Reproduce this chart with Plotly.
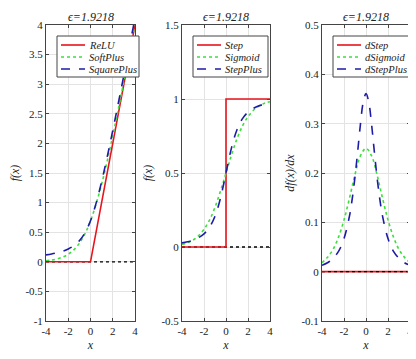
import plotly.graph_objects as go

# ---------------- data ----------------
x_grid = [-4, -3.5, -3, -2.5, -2, -1.5, -1, -0.5, 0, 0.5, 1, 1.5, 2, 2.5, 3, 3.5, 4]

relu_x = [-4, 0, 4]
relu_y = [0, 0, 4]
softplus_y = [0.018, 0.030, 0.049, 0.079, 0.127, 0.201, 0.313, 0.474, 0.693,
              0.974, 1.313, 1.701, 2.127, 2.579, 3.049, 3.530, 4.018]
squareplus_y = [0.117, 0.132, 0.152, 0.179, 0.217, 0.271, 0.355, 0.487, 0.693,
                0.987, 1.355, 1.771, 2.217, 2.679, 3.152, 3.632, 4.117]

step_x = [-4, 0, 0, 4]
step_y = [0, 0, 1, 1]
sigmoid_y = [0.018, 0.029, 0.047, 0.076, 0.119, 0.182, 0.269, 0.378, 0.500,
             0.622, 0.731, 0.818, 0.881, 0.924, 0.953, 0.971, 0.982]
stepplus_y = [0.028, 0.035, 0.046, 0.063, 0.089, 0.133, 0.208, 0.330, 0.500,
              0.670, 0.792, 0.867, 0.911, 0.937, 0.954, 0.965, 0.972]

dstep_x = [-4, 4]
dstep_y = [0, 0]
dsigmoid_y = [0.018, 0.029, 0.045, 0.070, 0.105, 0.149, 0.197, 0.235, 0.250,
              0.235, 0.197, 0.149, 0.105, 0.070, 0.045, 0.029, 0.018]
dstepplus_x = [-4, -3.5, -3, -2.5, -2, -1.5, -1.25, -1, -0.75, -0.5, -0.25, 0,
               0.25, 0.5, 0.75, 1, 1.25, 1.5, 2, 2.5, 3, 3.5, 4]
dstepplus_y = [0.013, 0.018, 0.027, 0.041, 0.067, 0.113, 0.148, 0.192, 0.245, 0.300, 0.344, 0.361,
               0.344, 0.300, 0.245, 0.192, 0.148, 0.113, 0.067, 0.041, 0.027, 0.018, 0.013]

title_text = "ϵ=1.9218"
x_ticks = [-4, -2, 0, 2, 4]
x_ticktext = ["-4", "-2", "0", "2", "4"]
y1_ticks = [-1, -0.5, 0, 0.5, 1, 1.5, 2, 2.5, 3, 3.5, 4]
y1_ticktext = ["-1", "-0.5", "0", "0.5", "1", "1.5", "2", "2.5", "3", "3.5", "4"]
y2_ticks = [-0.5, 0, 0.5, 1, 1.5]
y2_ticktext = ["-0.5", "0", "0.5", "1", "1.5"]
y3_ticks = [-0.1, 0, 0.1, 0.2, 0.3, 0.4, 0.5]
y3_ticktext = ["-0.1", "0", "0.1", "0.2", "0.3", "0.4", "0.5"]
legend_names = [["ReLU", "SoftPlus", "SquarePlus"],
                ["Step", "Sigmoid", "StepPlus"],
                ["dStep", "dSigmoid", "dStepPlus"]]

# ---------------- styling ----------------
FONT = "Liberation Serif, Times New Roman, serif"
RED = "#e8141c"
GREEN = "#3be03b"
BLUE = "#1c1ca8"
W = 1.6
TXT = "#222222"

fig = go.Figure()

def zero_line(xa, ya):
    fig.add_trace(go.Scatter(x=[-4, 4], y=[0, 0], xaxis=xa, yaxis=ya, mode="lines",
                             line=dict(color="black", width=1.3, dash="dot"),
                             showlegend=False, hoverinfo="skip"))

def curve(x, y, xa, ya, color, dash, shape):
    fig.add_trace(go.Scatter(x=x, y=y, xaxis=xa, yaxis=ya, mode="lines", showlegend=False,
                             line=dict(color=color, width=W, dash=dash, shape=shape)))

# panel 1
zero_line("x", "y")
curve(relu_x, relu_y, "x", "y", RED, "solid", "linear")
curve(x_grid, softplus_y, "x", "y", GREEN, "dot", "spline")
curve(x_grid, squareplus_y, "x", "y", BLUE, "dash", "spline")
# panel 2
zero_line("x2", "y2")
curve(step_x, step_y, "x2", "y2", RED, "solid", "linear")
curve(x_grid, sigmoid_y, "x2", "y2", GREEN, "dot", "spline")
curve(x_grid, stepplus_y, "x2", "y2", BLUE, "dash", "spline")
# panel 3
curve(dstep_x, dstep_y, "x3", "y3", RED, "solid", "linear")
zero_line("x3", "y3")
curve(x_grid, dsigmoid_y, "x3", "y3", GREEN, "dot", "spline")
curve(dstepplus_x, dstepplus_y, "x3", "y3", BLUE, "dash", "spline")

# page body has an 8px margin, so the figure is drawn 8px in from the top-left corner
OFF = 8
FW, FH = 416 - OFF, 359 - OFF
def px(v):
    return (v - OFF) / FW
def py(v):
    return 1 - (v - OFF) / FH

ydom = [py(321), py(25)]
xdoms = [[px(46), px(135)], [px(182), px(270)], [px(322), px(410)]]

axis_common = dict(showline=True, linecolor="#444444", linewidth=1, mirror="ticks",
                   showgrid=True, gridcolor="#e3e3e3", gridwidth=1, zeroline=False,
                   ticks="inside", ticklen=3, tickcolor="#444444", automargin=False,
                   tickfont=dict(family=FONT, size=11, color=TXT))

layout = dict(width=FW, height=FH, margin=dict(l=0, r=0, t=0, b=0, autoexpand=False),
              paper_bgcolor="white", plot_bgcolor="white",
              font=dict(family=FONT, size=11, color=TXT))
ytick_sets = [y1_ticks, y2_ticks, y3_ticks]
ytext_sets = [y1_ticktext, y2_ticktext, y3_ticktext]
yranges = [[-1, 4], [-0.5, 1.5], [-0.1, 0.5]]
ytitles = ["<i>f(x)</i>", "<i>f(x)</i>", "<i>df(x)/dx</i>"]
ystand = [12, 6, 4]
for i in range(3):
    sx = "" if i == 0 else str(i + 1)
    layout["xaxis" + sx] = dict(axis_common, domain=xdoms[i], range=[-4, 4], tickvals=x_ticks,
                                ticktext=x_ticktext, anchor="y" + sx,
                                title=dict(text="<i>x</i>", font=dict(family=FONT, size=12), standoff=4))
    layout["yaxis" + sx] = dict(axis_common, domain=ydom, range=yranges[i], tickvals=ytick_sets[i],
                                ticktext=ytext_sets[i], anchor="x" + sx,
                                title=dict(text=ytitles[i], font=dict(family=FONT, size=12),
                                           standoff=ystand[i]))
fig.update_layout(**layout)

# titles
for i in range(3):
    cx = (xdoms[i][0] + xdoms[i][1]) / 2
    fig.add_annotation(x=cx, y=py(17), xref="paper", yref="paper", text="<i>" + title_text + "</i>",
                       showarrow=False, font=dict(family=FONT, size=12, color=TXT),
                       xanchor="center", yanchor="middle")

# legends (MATLAB-style boxed legends)
boxes = [(57, 139), (193, 268), (333, 410)]
box_top, box_bot = 36, 77
rows = [45, 57, 69]
styles = [(RED, "solid"), (GREEN, "dot"), (BLUE, "dash")]
for i in range(3):
    x0, x1 = boxes[i]
    fig.add_shape(type="rect", xref="paper", yref="paper", x0=px(x0), x1=px(x1),
                  y0=py(box_bot), y1=py(box_top), fillcolor="white",
                  line=dict(color="#444444", width=1), layer="above")
    for j in range(3):
        col, dash = styles[j]
        fig.add_shape(type="line", xref="paper", yref="paper", x0=px(x0 + 4), x1=px(x0 + 28),
                      y0=py(rows[j]), y1=py(rows[j]), line=dict(color=col, width=W, dash=dash),
                      layer="above")
        fig.add_annotation(x=px(x0 + 30), y=py(rows[j]), xref="paper", yref="paper",
                           text="<i>" + legend_names[i][j] + "</i>", showarrow=False,
                           xanchor="left", yanchor="middle",
                           font=dict(family=FONT, size=10.5, color=TXT))

fig.write_html("out.html")
